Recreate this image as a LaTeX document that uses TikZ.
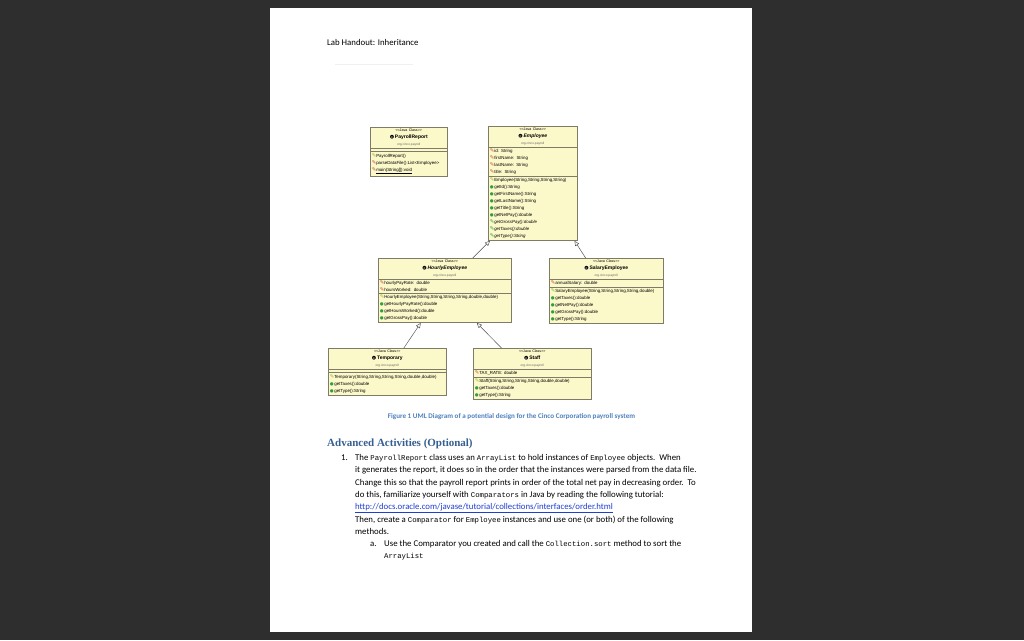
\documentclass[tikz,border=0pt]{standalone}
\usepackage{fontspec}
\usepackage{xcolor}
\usetikzlibrary{arrows.meta,calc,shapes.multipart}

\setmainfont{Carlito}
\setmonofont{Liberation Mono}
\newfontfamily\umlsans{Liberation Sans}
\newfontfamily\headserif{Liberation Serif}
\newfontfamily\symfont{DejaVu Sans}

\definecolor{deskbg}{HTML}{2E2E2E}
\definecolor{umlfill}{HTML}{FBF8C9}
\definecolor{umlline}{HTML}{7E7C66}
\definecolor{headblue}{HTML}{365F91}
\definecolor{capblue}{HTML}{4F81BD}
\definecolor{linkblue}{HTML}{1F3FD0}
\definecolor{methgreen}{HTML}{2E9E3E}
\definecolor{fieldred}{HTML}{D0503A}
\definecolor{ctorgreen}{HTML}{9CB52A}
\definecolor{clsgreen}{HTML}{3E9A3A}

% fonts for the page text
\newcommand\bodyfont{\fontsize{8.8}{12.3}\selectfont}
\newcommand\code[1]{{\ttfamily\fontsize{7.3}{12.3}\selectfont #1}}

% member icons of the uml boxes
\newsavebox\clsbox
\newcommand\clsicon{\leavevmode\sbox\clsbox{\symfont ●}\rlap{\textcolor{clsgreen}{\usebox\clsbox}}%
  \hbox to \wd\clsbox{\hss\textcolor{white}{\fontsize{2.6}{3}\selectfont\bfseries C}\hss}}
\newcommand\mic{{\symfont\textcolor{methgreen}{●}}\,}
\newcommand\fic{{\symfont\fontsize{5.4}{7}\selectfont\textcolor{fieldred}{✎}}}
\newcommand\cic{{\symfont\fontsize{5.4}{7}\selectfont\textcolor{ctorgreen}{✎}}}
\newcommand\aic{{\symfont\fontsize{5.4}{7}\selectfont\textcolor{methgreen}{✎}}}
\newcommand\umlhead[1]{\centering
  {\fontsize{3.6}{6.5}\selectfont\textless\textless Java Class\textgreater\textgreater}\par
  {\fontsize{5}{6.5}\selectfont\clsicon\,\bfseries #1}\par
  {\fontsize{3.2}{6}\selectfont\color{gray!80!black}org.cinco.payroll}\par}

\begin{document}
\begin{tikzpicture}[
  x=1pt, y=-1pt,
  umlclass/.style={rectangle split, rectangle split parts=3, draw=umlline, fill=umlfill,
    line width=0.5pt, anchor=north west, align=left, inner xsep=1.5pt, inner ysep=1.5pt,
    font=\umlsans\fontsize{4.4}{7}\selectfont},
  inh/.style={draw=gray!60!black, line width=0.45pt, -{Triangle[open, length=5pt, width=4.5pt]}},
  txt/.style={anchor=base west, inner sep=0pt, font=\bodyfont}
]
\useasboundingbox (0,0) rectangle (1024,640);
\fill[deskbg] (0,0) rectangle (1024,640);
\fill[white] (270,8) rectangle (752,632);

% page header
\node[txt] (hdr) at (327,45) {Lab Handout: Inheritance};
\draw[gray!12] (335,64) -- (413,64);

% uml classes
\node[umlclass, text width=74pt] (report) at (370,127) {\umlhead{PayrollReport}
  \nodepart{two}
  \nodepart{three}\cic PayrollReport()\\ \fic parseDataFile():List<Employee>\\ \fic \underline{main(String[]):void}};

\node[umlclass, text width=86pt] (emp) at (488,126) {\umlhead{\itshape Employee}
  \nodepart{two}\fic id: String\\ \fic firstName: String\\ \fic lastName: String\\ \fic title: String
  \nodepart{three}\cic Employee(String,String,String,String)\\ \mic getId():String\\
  \mic getFirstName():String\\ \mic getLastName():String\\ \mic getTitle():String\\
  \mic getNetPay():double\\ \aic \textit{getGrossPay():double}\\ \aic \textit{getTaxes():double}\\
  \aic \textit{getType():String}};

\node[umlclass, text width=130pt] (hourly) at (378,258) {\umlhead{\itshape HourlyEmployee}
  \nodepart{two}\fic hourlyPayRate: double\\ \fic hoursWorked: double
  \nodepart{three}\cic HourlyEmployee(String,String,String,String,double,double)\\
  \mic getHourlyPayRate():double\\ \mic getHoursWorked():double\\ \mic getGrossPay():double};

\node[umlclass, text width=111pt] (salary) at (549,258) {\umlhead{SalaryEmployee}
  \nodepart{two}\fic annualSalary: double
  \nodepart{three}\cic SalaryEmployee(String,String,String,String,double)\\
  \mic getTaxes():double\\ \mic getNetPay():double\\ \mic getGrossPay():double\\ \mic getType():String};

\node[umlclass, text width=115pt] (temp) at (328,348) {\umlhead{Temporary}
  \nodepart{two}
  \nodepart{three}\cic Temporary(String,String,String,String,double,double)\\
  \mic getTaxes():double\\ \mic getType():String};

\node[umlclass, text width=115pt] (staff) at (473,348) {\umlhead{Staff}
  \nodepart{two}\fic TAX\_RATE: double
  \nodepart{three}\cic Staff(String,String,String,String,double,double)\\
  \mic getTaxes():double\\ \mic getType():String};

% generalisation arrows
\draw[inh] ($(hourly.north west)!.71!(hourly.north east)$) -- ($(emp.south west)+(2,0)$);
\draw[inh] ($(salary.north west)!.32!(salary.north east)$) -- ($(emp.south east)+(-3,0)$);
\draw[inh] ($(temp.north west)!.64!(temp.north east)$) -- ($(hourly.south west)!.32!(hourly.south east)$);
\draw[inh] ($(staff.north west)!.24!(staff.north east)$) -- ($(hourly.south west)!.74!(hourly.south east)$);

% caption and text
\node[anchor=base, inner sep=0pt, font=\fontsize{7.1}{8}\selectfont\bfseries, text=capblue] (cap)
  at (511.5,418.5) {Figure 1 UML Diagram of a potential design for the Cinco Corporation payroll system};
\node[anchor=base west, inner sep=0pt, font=\headserif\bfseries\fontsize{11}{13}\selectfont, text=headblue]
  (adv) at (327,446) {Advanced Activities (Optional)};

\node[txt] (n1) at (341,460.5) {1.};
\node[txt] (l1) at (355,460.5) {The \code{PayrollReport} class uses an \code{ArrayList} to hold instances of \code{Employee} objects.\ \ When};
\node[txt] (l2) at (355,472.8) {it generates the report, it does so in the order that the instances were parsed from the data file.};
\node[txt] (l3) at (355,485.1) {Change this so that the payroll report prints in order of the total net pay in decreasing order.\ \ To};
\node[txt] (l4) at (355,497.4) {do this, familiarize yourself with \code{Comparators} in Java by reading the following tutorial:};
\node[txt, text=linkblue] (l5) at (355,509.7) {\underline{http://docs.oracle.com/javase/tutorial/collections/interfaces/order.html}};
\node[txt] (l6) at (355,522) {Then, create a \code{Comparator} for \code{Employee} instances and use one (or both) of the following};
\node[txt] (l7) at (355,534.3) {methods.};
\node[txt] (na) at (370,546.6) {a.};
\node[txt] (a1) at (384,546.6) {Use the Comparator you created and call the \code{Collection.sort} method to sort the};
\node[txt] (a2) at (384,558.9) {\code{ArrayList}};
\end{tikzpicture}
\end{document}
